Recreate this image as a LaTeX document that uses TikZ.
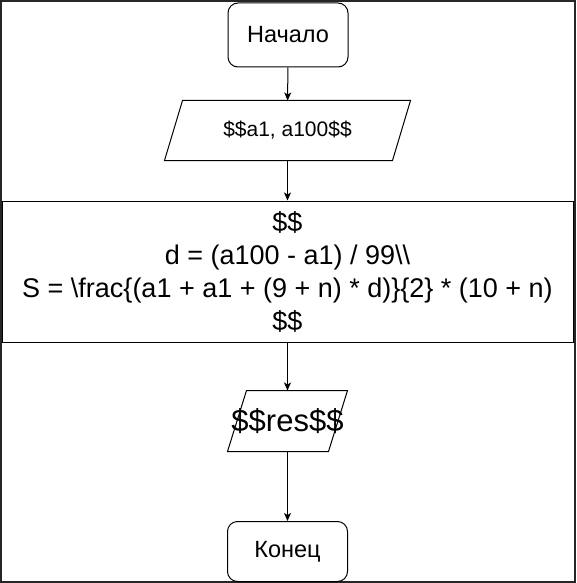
\documentclass[tikz,border=0pt]{standalone}
\usepackage{fontspec}
\setmainfont{Liberation Sans}
\usetikzlibrary{arrows.meta}
\begin{document}
\begin{tikzpicture}[x=1pt,y=-1pt,
  line width=1pt,
  term/.style={draw, rounded corners=10pt, minimum width=120pt, inner sep=0pt, font=\fontsize{23.5}{27}\selectfont},
  iobox/.style={draw=none, inner sep=0pt},
  procbox/.style={draw, inner sep=0pt, align=center, font=\fontsize{27}{33}\selectfont},
  arr/.style={-{Stealth[length=8pt,width=7pt,inset=2pt]}}
]
\useasboundingbox (0,0) rectangle (576,583);
\draw[line width=1.6pt, color=black!85] (0.8,0.8) rectangle (575.2,582.2);

\node[term, minimum height=64pt] (start) at (288,35) {Начало};

\node[iobox, minimum width=245pt, minimum height=59pt, font=\fontsize{21}{25}\selectfont] (in) at (287.5,130.5) {\$\$a1, a100\$\$};
\draw ([xshift=18pt]in.north west) -- (in.north east) -- ([xshift=-18pt]in.south east) -- (in.south west) -- cycle;

\node[procbox, minimum width=571pt, minimum height=141pt] (calc) at (287.5,271.5)
  {\$\$\\d = (a100 - a1) / 99\textbackslash\textbackslash\\S = \textbackslash frac\{(a1 + a1 + (9 + n) * d)\}\{2\} * (10 + n)\\\$\$};

\node[iobox, minimum width=119pt, minimum height=60pt, font=\fontsize{31}{36}\selectfont] (out) at (287.5,421) {\$\$res\$\$};
\draw ([xshift=19pt]out.north west) -- (out.north east) -- ([xshift=-19pt]out.south east) -- (out.south west) -- cycle;

\node[term, minimum height=60pt] (stop) at (287.5,551.5) {Конец};

\draw[arr] (start) -- (in);
\draw[arr] (in) -- (calc);
\draw[arr] (calc) -- (out);
\draw[arr] (out) -- (stop);
\end{tikzpicture}
\end{document}
